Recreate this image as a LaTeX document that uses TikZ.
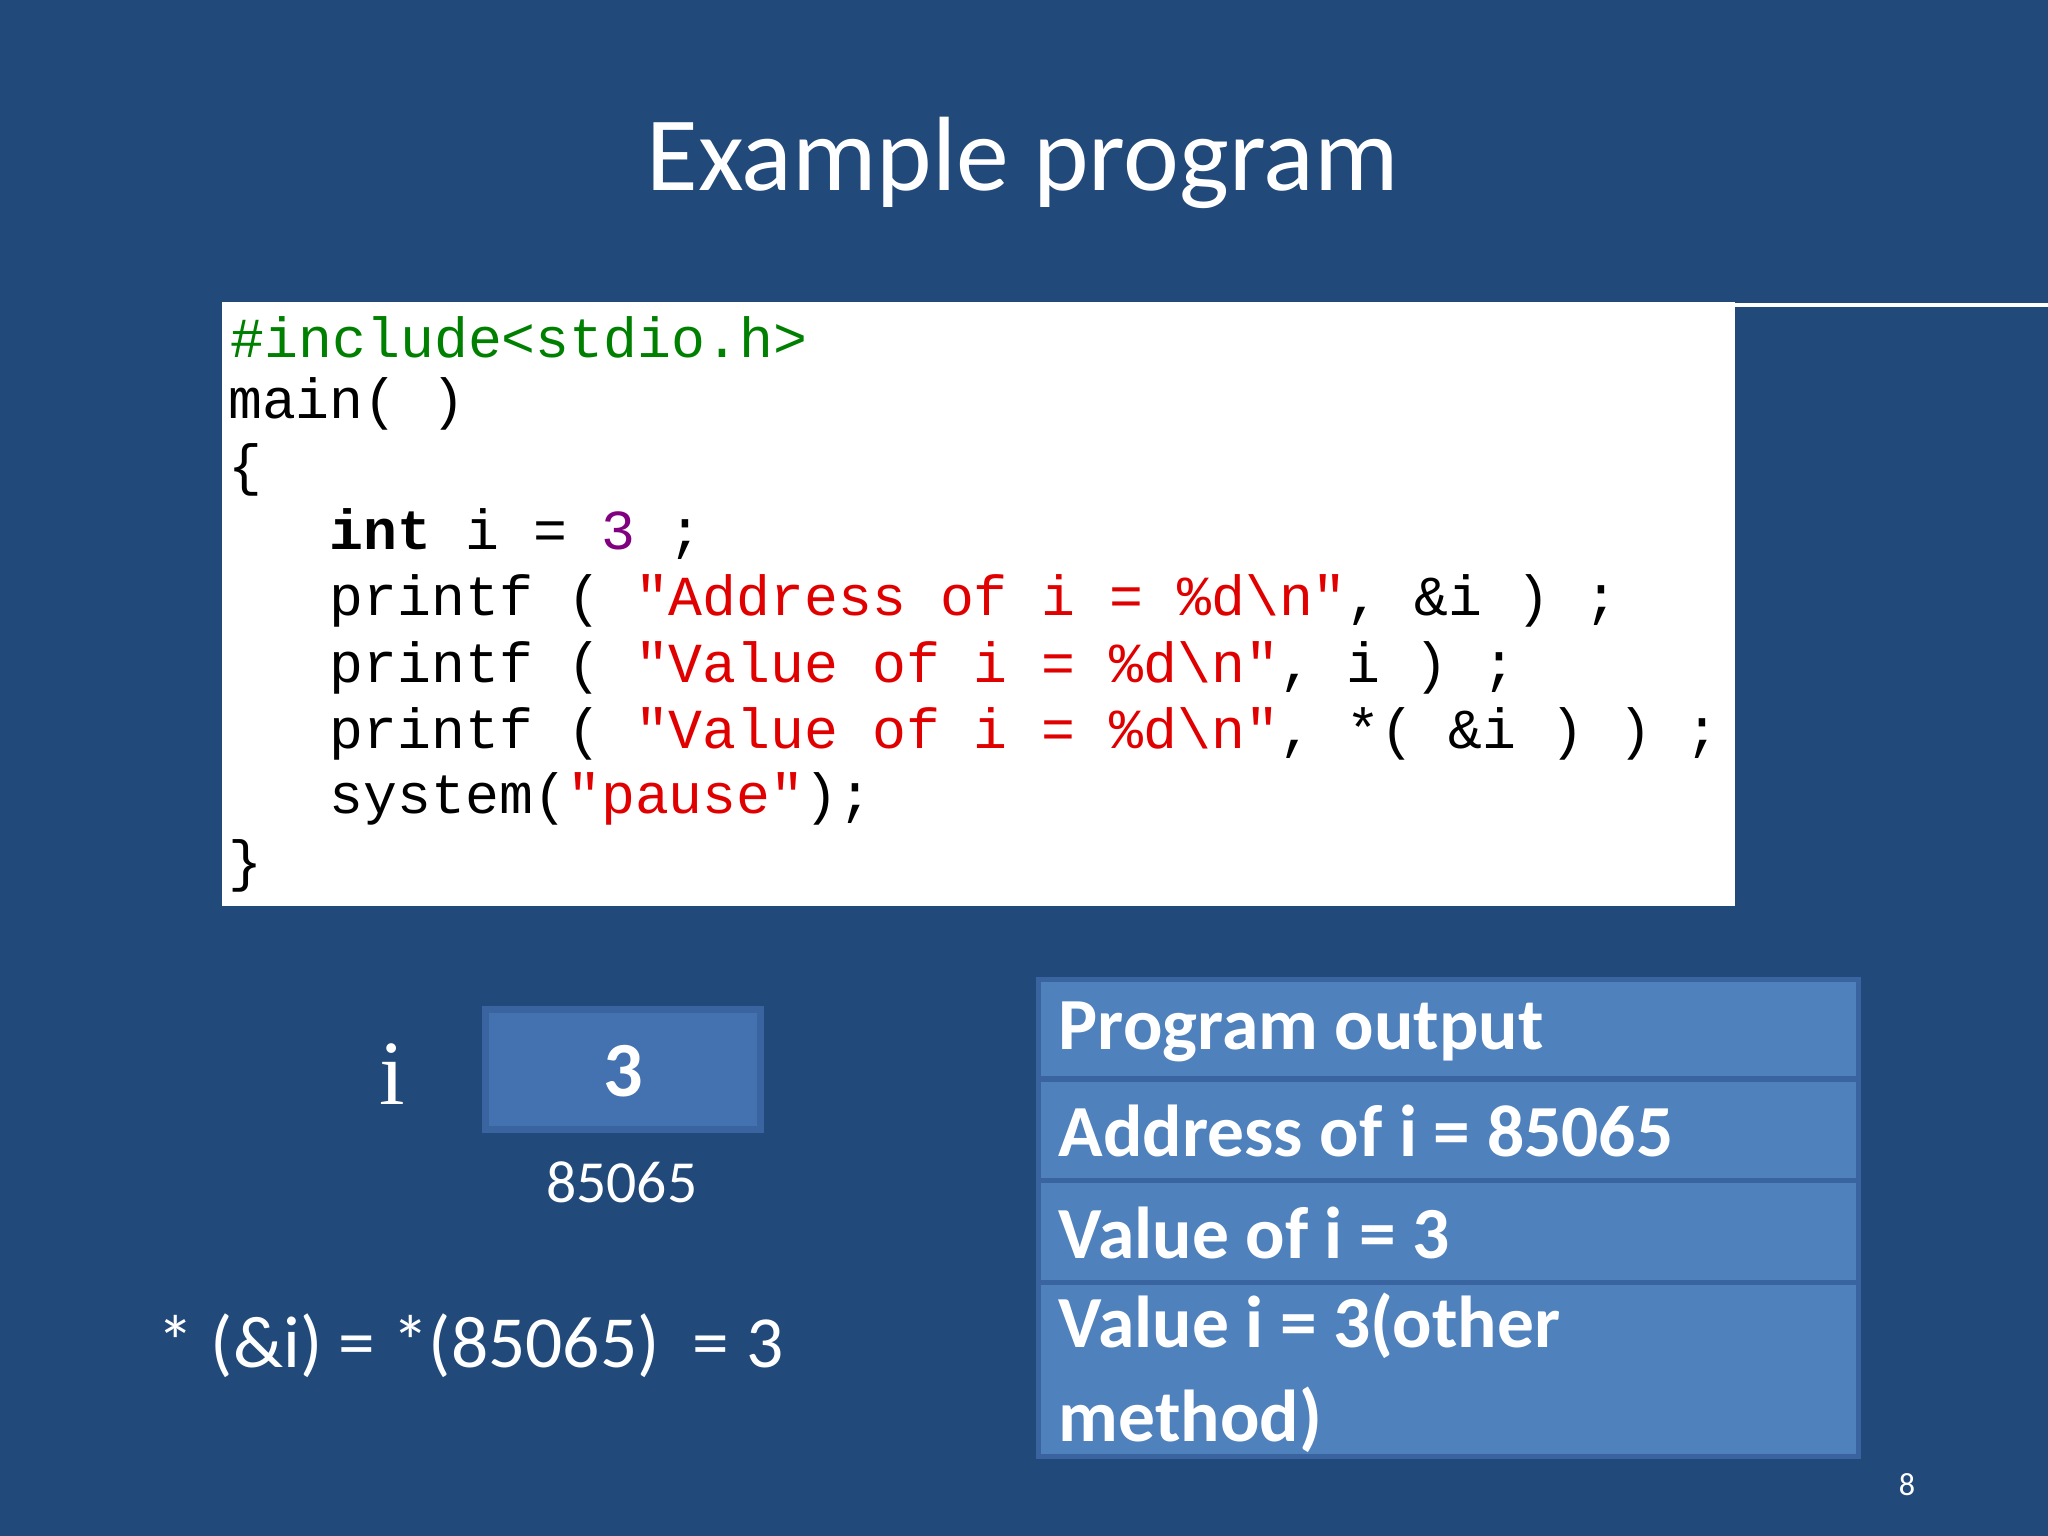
\documentclass[tikz,border=0pt]{standalone}
\usepackage{fontspec}
\setmainfont{Carlito}
\newfontfamily\cf{Liberation Mono}
\newfontfamily\tm{Liberation Serif}
\definecolor{bg}{HTML}{21497A}
\definecolor{boxf}{HTML}{4472B0}
\definecolor{rowf}{HTML}{4F81BD}
\definecolor{rowb}{HTML}{3A64A0}
\definecolor{cg}{HTML}{008000}
\definecolor{cr}{HTML}{E00000}
\definecolor{cp}{HTML}{800080}
\tikzset{code/.style={anchor=west,inner sep=0,font=\cf\fontsize{12.3pt}{14pt}\selectfont,text=black},
 row/.style={draw=rowb,line width=1.2pt,fill=rowf},
 rowt/.style={anchor=west,inner sep=0,text=white,font=\bfseries\fontsize{16pt}{19pt}\selectfont},
 wt/.style={text=white,inner sep=0}}
\begin{document}
\begin{tikzpicture}[x=0.01cm,y=-0.01cm]
\fill[bg] (0,0) rectangle (1568,1176);
\useasboundingbox (0,0) rectangle (1568,1176);
\node[wt,font=\fontsize{23pt}{27pt}\selectfont] (title) at (783,125) {Example program};
\node[fill=white,minimum width=1158\pgflinewidth,inner sep=0,anchor=north west] (cb) at (170,231) {};
\fill[white] (170,231) rectangle (1328,694);
\node[code] (l1) at (176,258) {\color{cg}\#include<stdio.h>};
\node[code] (l2) at (174,309) {main(~)};
\node[code] (l3) at (174,360) {\{};
\node[code] (l4) at (174,409) {~~~\textbf{int}~i~=~\textcolor{cp}{3}~;};
\node[code] (l5) at (174,460) {~~~printf~(~\textcolor{cr}{"Address~of~i~=~\%d\textbackslash n"},~\&i~)~;};
\node[code] (l6) at (174,511) {~~~printf~(~\textcolor{cr}{"Value~of~i~=~\%d\textbackslash n"},~i~)~;};
\node[code] (l7) at (174,562) {~~~printf~(~\textcolor{cr}{"Value~of~i~=~\%d\textbackslash n"},~*(~\&i~)~)~;};
\node[code] (l8) at (174,612) {~~~system(\textcolor{cr}{"pause"});};
\node[code] (l9) at (174,663) {\}};
\node[wt,font=\tm\fontsize{20pt}{24pt}\selectfont] (iv) at (300,822) {i};
\draw[draw=rowb,line width=1.5pt,fill=boxf] (372,773) rectangle (582,865);
\node[wt,font=\bfseries\fontsize{17pt}{20pt}\selectfont] (three) at (477,820) {3};
\node[wt,font=\fontsize{13pt}{16pt}\selectfont] (addr) at (476,905) {85065};
\node[wt,anchor=west,font=\fontsize{16pt}{19pt}\selectfont] (formula) at (120,1030) {*~(\&i)~=~*(85065)~~=~3};
\draw[row] (795,750) rectangle (1423,826);
\draw[row] (795,826) rectangle (1423,904);
\draw[row] (795,904) rectangle (1423,982);
\draw[row] (795,982) rectangle (1423,1115);
\node[rowt] (r1) at (810,790) {Program output};
\node[rowt] (r2) at (810,866) {Address of i = 85065};
\node[rowt] (r3) at (810,944) {Value of i = 3};
\node[rowt] (r4) at (810,1015) {Value i = 3(other};
\node[rowt] (r5) at (810,1087) {method)};
\node[wt,font=\fontsize{7pt}{8pt}\selectfont] (pg) at (1460,1137) {8};
\end{tikzpicture}
\end{document}
